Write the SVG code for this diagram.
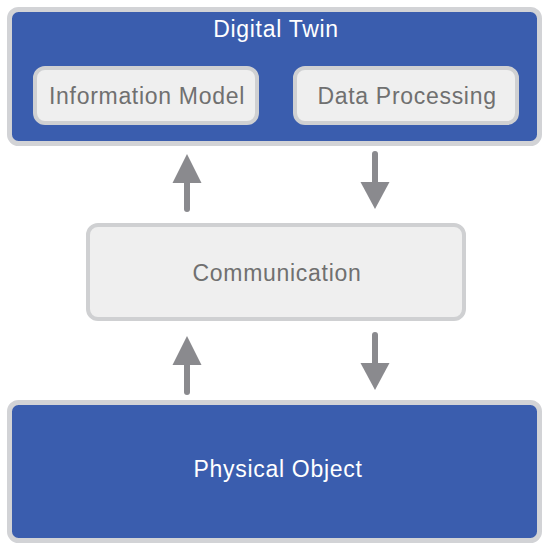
<svg xmlns="http://www.w3.org/2000/svg" width="550" height="545" viewBox="0 0 550 545">
<defs>
<style>
.outer{fill:#3a5dae;stroke:#d2d3d6;stroke-width:5}
.inner{fill:#efefef;stroke:#cfd0d2;stroke-width:4}
.wt{fill:#ffffff;font-family:"Liberation Sans",Arial,sans-serif;font-size:23px;letter-spacing:0.7px;text-anchor:middle}
.gt{fill:#707070;font-family:"Liberation Sans",Arial,sans-serif;font-size:23px;letter-spacing:0.7px;text-anchor:middle}
.shaft{stroke:#8a8a8e;stroke-width:6;stroke-linecap:round;fill:none}
.head{fill:#8a8a8e}
</style>
</defs>
<rect width="550" height="545" fill="#ffffff"/>
<g id="digital-twin">
<rect class="outer" x="9.5" y="9.5" width="530" height="134" rx="9"/>
<text class="wt" x="276" y="37">Digital Twin</text>
</g>
<g id="information-model">
<rect class="inner" x="35" y="68" width="222" height="55" rx="10"/>
<text class="gt" x="147" y="104">Information Model</text>
</g>
<g id="data-processing">
<rect class="inner" x="295" y="68" width="222" height="55" rx="10"/>
<text class="gt" x="407" y="104">Data Processing</text>
</g>
<g id="communication">
<rect class="inner" x="88" y="225" width="376" height="94" rx="10"/>
<text class="gt" x="277" y="281">Communication</text>
</g>
<g id="physical-object">
<rect class="outer" x="9.5" y="402.5" width="530" height="138" rx="9"/>
<text class="wt" x="278" y="477">Physical Object</text>
</g>
<g id="connectors">
<line class="shaft" x1="187" y1="209" x2="187" y2="178"/>
<polygon class="head" points="187,154 201.5,183 172.5,183"/>
<line class="shaft" x1="375" y1="154" x2="375" y2="185"/>
<polygon class="head" points="375,209 389.5,182 360.5,182"/>
<line class="shaft" x1="187" y1="392" x2="187" y2="360"/>
<polygon class="head" points="187,336 201.5,365 172.5,365"/>
<line class="shaft" x1="375" y1="335" x2="375" y2="366"/>
<polygon class="head" points="375,390 389.5,363 360.5,363"/>
</g>
</svg>
